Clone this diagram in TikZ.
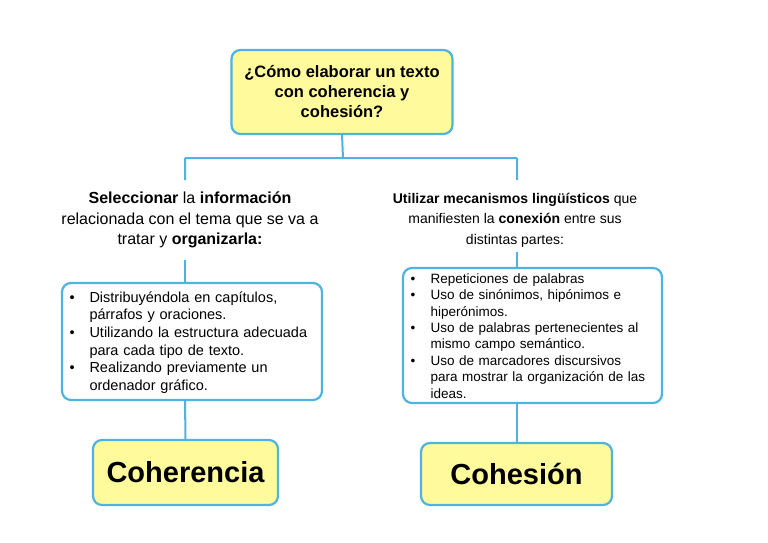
\documentclass[tikz,border=0pt]{standalone}
\usepackage{fontspec}
\setmainfont{Liberation Sans}
\newcommand{\bul}{\makebox[20pt][l]{\textbullet}}
\newcommand{\ind}{\makebox[20pt][l]{}}
\begin{document}
\begin{tikzpicture}[x=1pt,y=-1pt,
  bx/.style={draw=cb,line width=2.2pt,rounded corners=9pt},
  yb/.style={bx,fill=yl},
  ln/.style={draw=cb,line width=2pt}]
\definecolor{cb}{HTML}{4FB3E0}
\definecolor{yl}{HTML}{FFFA9C}
\useasboundingbox[fill=white] (0,0) rectangle (768,543);
\node[yb,minimum width=221pt,minimum height=84pt,align=center,font=\fontsize{16.5}{20}\selectfont\bfseries] (q) at (342,92) {¿Cómo elaborar un texto\\con coherencia y\\cohesión?};
\coordinate (j) at (343,158);
\coordinate (jl) at (185,158);
\coordinate (jr) at (517,158);
\coordinate (el) at (185,180);
\coordinate (er) at (517,180);
\draw[ln] (q.south) -- (j) (jl) -- (jr) (jl) -- (el) (jr) -- (er);
\node[align=center,font=\fontsize{16}{20.5}\selectfont] (tl) at (190,220) {\textbf{Seleccionar} la \textbf{información}\\relacionada con el tema que se va a\\tratar y \textbf{organizarla:}};
\node[align=center,font=\fontsize{14}{20.5}\selectfont] (tr) at (515,220) {\textbf{Utilizar mecanismos lingüísticos} que\\manifiesten la \textbf{conexión} entre sus\\distintas partes:};
\node[bx,fill=white,minimum width=260pt,minimum height=117pt] (bl) at (192,341.5) {};
\node[anchor=north west,text width=250pt,font=\fontsize{14.5}{17.6}\selectfont,align=left] (ll) at (66,288) {%
\bul Distribuyéndola en capítulos,\\\ind párrafos y oraciones.\\
\bul Utilizando la estructura adecuada\\\ind para cada tipo de texto.\\
\bul Realizando previamente un\\\ind ordenador gráfico.};
\node[bx,fill=white,minimum width=259pt,minimum height=135pt] (br) at (532.5,335.5) {};
\node[anchor=north west,text width=250pt,font=\fontsize{13.5}{16.4}\selectfont,align=left] (lr) at (407,270) {%
\bul Repeticiones de palabras\\
\bul Uso de sinónimos, hipónimos e\\\ind hiperónimos.\\
\bul Uso de palabras pertenecientes al\\\ind mismo campo semántico.\\
\bul Uso de marcadores discursivos\\\ind para mostrar la organización de las\\\ind ideas.};
\node[yb,minimum width=185pt,minimum height=65pt,font=\fontsize{29}{32}\selectfont\bfseries] (co) at (185.5,472.5) {Coherencia};
\node[yb,minimum width=191pt,minimum height=62pt,font=\fontsize{29}{32}\selectfont\bfseries] (ch) at (516.5,474) {Cohesión};
\coordinate (a1) at (185,260);
\coordinate (a2) at (517,252);
\draw[ln] (a1) -- (a1 |- bl.north);
\draw[ln] (a2) -- (a2 |- br.north);
\draw[ln] (185,400) -- (co.north);
\draw[ln] (517,403) -- (517,443);
\end{tikzpicture}
\end{document}
